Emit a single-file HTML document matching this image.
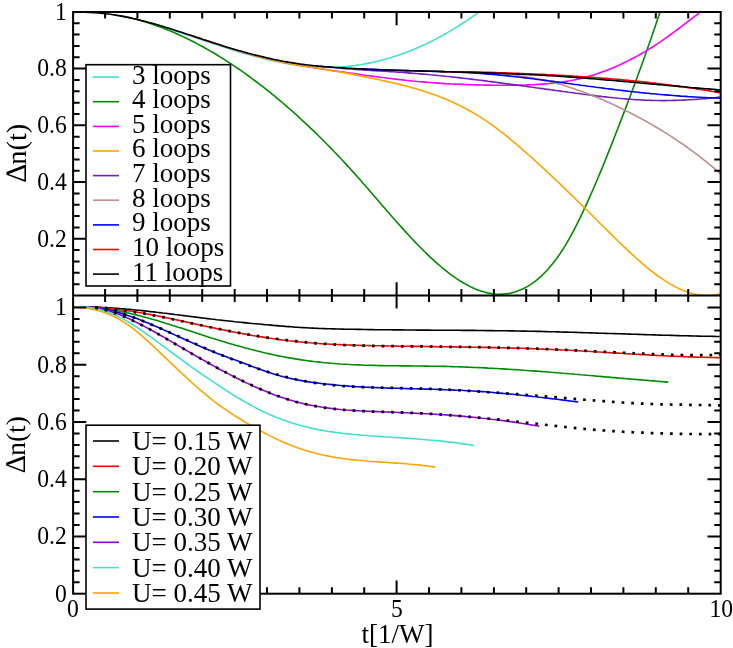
<!DOCTYPE html>
<html><head><meta charset="utf-8"><title>plot</title>
<style>html,body{margin:0;padding:0;background:#fff;overflow:hidden}svg{display:block}</style>
</head><body>
<svg width="733" height="648" viewBox="0 0 733 648">
<defs><clipPath id="ct"><rect x="73" y="12" width="648" height="283.5"/></clipPath><clipPath id="cb"><rect x="73" y="295.5" width="648" height="298"/></clipPath></defs>
<rect width="733" height="648" fill="#fff"/>
<g clip-path="url(#ct)" fill="none" stroke-width="1.6" stroke-linejoin="round">
<path d="M150.4 22.8 L152.9 23.6 L155.4 24.3 L157.9 25.0 L160.4 25.8 L162.9 26.6 L165.4 27.5 L167.9 28.3 L170.4 29.1 L172.9 30.0 L175.4 30.9 L177.9 31.7 L180.4 32.6 L182.9 33.4 L185.4 34.3 L187.9 35.1 L190.4 35.9 L192.9 36.8 L195.4 37.6 L197.9 38.5 L200.3 39.3 L202.8 40.1 L205.3 41.0 L207.8 41.8 L210.3 42.6 L212.8 43.5 L215.3 44.3 L217.8 45.1 L220.3 45.9 L222.8 46.7 L225.3 47.5 L227.8 48.3 L230.3 49.1 L232.8 49.9 L235.3 50.7 L237.8 51.4 L240.3 52.2 L242.8 52.9 L245.3 53.7 L247.8 54.4 L250.3 55.1 L252.8 55.8 L255.3 56.4 L257.8 57.1 L260.3 57.8 L262.8 58.4 L265.3 59.0 L267.8 59.6 L270.3 60.2 L272.8 60.7 L275.3 61.3 L277.8 61.8 L280.3 62.3 L282.7 62.8 L285.2 63.3 L287.7 63.7 L290.2 64.1 L292.7 64.5 L295.2 64.9 L297.7 65.2 L300.2 65.6 L302.7 65.9 L305.2 66.1 L307.7 66.4 L310.2 66.6 L312.7 66.8 L315.2 67.0 L317.7 67.1 L320.2 67.2 L322.7 67.3 L325.2 67.3 L327.7 67.3 L330.2 67.3 L332.7 67.3 L335.2 67.2 L337.7 67.1 L340.2 66.9 L342.7 66.8 L345.2 66.6 L347.7 66.3 L350.2 66.1 L352.7 65.8 L355.2 65.5 L357.7 65.1 L360.2 64.8 L362.7 64.3 L365.1 63.9 L367.6 63.4 L370.1 62.9 L372.6 62.4 L375.1 61.8 L377.6 61.3 L380.1 60.6 L382.6 60.0 L385.1 59.3 L387.6 58.6 L390.1 57.9 L392.6 57.1 L395.1 56.3 L397.6 55.5 L400.1 54.6 L402.6 53.7 L405.1 52.8 L407.6 51.8 L410.1 50.9 L412.6 49.9 L415.1 48.8 L417.6 47.8 L420.1 46.7 L422.6 45.5 L425.1 44.4 L427.6 43.2 L430.1 42.0 L432.6 40.7 L435.1 39.4 L437.6 38.1 L440.1 36.8 L442.6 35.4 L445.1 34.0 L447.6 32.6 L450.0 31.1 L452.5 29.7 L455.0 28.1 L457.5 26.6 L460.0 25.0 L462.5 23.4 L465.0 21.8 L467.5 20.1 L470.0 18.4 L472.5 16.7 L475.0 14.9 L477.5 13.1 L480.0 11.3 L482.5 9.5 L485.0 7.6 L487.5 5.7 L490.0 3.8" stroke="#40e0d0"/>
<path d="M115.5 15.1 L118.0 15.5 L120.5 15.9 L123.0 16.4 L125.5 16.8 L128.0 17.4 L130.5 17.9 L132.9 18.5 L135.4 19.1 L137.9 19.7 L140.4 20.4 L142.9 21.2 L145.4 21.9 L147.9 22.7 L150.4 23.6 L152.9 24.4 L155.4 25.3 L157.9 26.2 L160.4 27.1 L162.9 28.0 L165.4 29.0 L167.9 30.0 L170.4 31.0 L172.9 32.1 L175.4 33.2 L177.9 34.3 L180.4 35.4 L182.9 36.6 L185.4 37.8 L187.9 39.0 L190.4 40.2 L192.9 41.5 L195.4 42.8 L197.9 44.1 L200.4 45.5 L202.9 46.8 L205.4 48.2 L207.9 49.6 L210.4 51.1 L212.9 52.5 L215.4 54.0 L217.9 55.5 L220.4 57.1 L222.9 58.6 L225.4 60.2 L227.9 61.8 L230.4 63.5 L232.9 65.1 L235.4 66.8 L237.9 68.5 L240.4 70.2 L242.9 71.9 L245.4 73.7 L247.9 75.5 L250.4 77.3 L252.8 79.2 L255.3 81.0 L257.8 82.9 L260.3 84.8 L262.8 86.7 L265.3 88.7 L267.8 90.7 L270.3 92.7 L272.8 94.7 L275.3 96.7 L277.8 98.8 L280.3 100.9 L282.8 103.0 L285.3 105.1 L287.8 107.3 L290.3 109.5 L292.8 111.7 L295.3 113.9 L297.8 116.2 L300.3 118.5 L302.8 120.8 L305.3 123.1 L307.8 125.4 L310.3 127.8 L312.8 130.2 L315.3 132.6 L317.8 135.0 L320.3 137.5 L322.8 140.0 L325.3 142.5 L327.8 145.0 L330.3 147.6 L332.8 150.2 L335.3 152.8 L337.8 155.4 L340.3 158.0 L342.8 160.7 L345.3 163.4 L347.8 166.1 L350.3 168.8 L352.8 171.6 L355.3 174.4 L357.8 177.2 L360.3 180.0 L362.8 182.9 L365.3 185.7 L367.8 188.6 L370.2 191.5 L372.7 194.3 L375.2 197.2 L377.7 200.1 L380.2 203.0 L382.7 205.9 L385.2 208.8 L387.7 211.7 L390.2 214.5 L392.7 217.4 L395.2 220.2 L397.7 223.0 L400.2 225.8 L402.7 228.6 L405.2 231.4 L407.7 234.1 L410.2 236.8 L412.7 239.5 L415.2 242.1 L417.7 244.7 L420.2 247.3 L422.7 249.8 L425.2 252.3 L427.7 254.7 L430.2 257.1 L432.7 259.4 L435.2 261.7 L437.7 263.9 L440.2 266.0 L442.7 268.1 L445.2 270.2 L447.7 272.2 L450.2 274.1 L452.7 275.9 L455.2 277.7 L457.7 279.3 L460.2 281.0 L462.7 282.5 L465.2 283.9 L467.7 285.3 L470.2 286.6 L472.7 287.8 L475.2 288.9 L477.7 289.9 L480.2 290.8 L482.7 291.6 L485.2 292.3 L487.6 292.9 L490.1 293.4 L492.6 293.7 L495.1 294.0 L497.6 294.2 L500.1 294.2 L502.6 294.1 L505.1 294.0 L507.6 293.6 L510.1 293.2 L512.6 292.6 L515.1 291.9 L517.6 291.1 L520.1 290.1 L522.6 289.0 L525.1 287.8 L527.6 286.4 L530.1 284.8 L532.6 283.1 L535.1 281.3 L537.6 279.3 L540.1 277.1 L542.6 274.8 L545.1 272.3 L547.6 269.7 L550.1 266.8 L552.6 263.8 L555.1 260.6 L557.6 257.2 L560.1 253.6 L562.6 249.8 L565.1 245.8 L567.6 241.6 L570.1 237.2 L572.6 232.6 L575.1 227.8 L577.6 222.9 L580.1 217.8 L582.6 212.6 L585.1 207.2 L587.6 201.8 L590.1 196.2 L592.6 190.5 L595.1 184.7 L597.6 178.8 L600.1 172.9 L602.6 166.9 L605.1 160.8 L607.5 154.6 L610.0 148.4 L612.5 142.1 L615.0 135.7 L617.5 129.3 L620.0 122.9 L622.5 116.4 L625.0 109.9 L627.5 103.3 L630.0 96.7 L632.5 90.0 L635.0 83.3 L637.5 76.5 L640.0 69.6 L642.5 62.7 L645.0 55.7 L647.5 48.6 L650.0 41.5 L652.5 34.3 L655.0 27.0 L657.5 19.6 L660.0 12.2 L662.5 4.6 L665.0 -3.0" stroke="#008b00"/>
<path d="M190.4 35.3 L192.9 36.1 L195.4 36.9 L197.9 37.7 L200.4 38.5 L202.9 39.4 L205.4 40.2 L207.9 41.0 L210.4 41.8 L212.9 42.6 L215.4 43.4 L217.9 44.3 L220.4 45.1 L222.9 45.9 L225.4 46.7 L227.9 47.5 L230.4 48.3 L232.9 49.1 L235.4 49.9 L237.9 50.6 L240.4 51.4 L242.9 52.1 L245.4 52.9 L247.9 53.6 L250.4 54.3 L252.9 55.0 L255.4 55.6 L257.9 56.3 L260.4 56.9 L262.9 57.6 L265.3 58.2 L267.8 58.8 L270.3 59.3 L272.8 59.9 L275.3 60.5 L277.8 61.0 L280.3 61.5 L282.8 62.1 L285.3 62.6 L287.8 63.1 L290.3 63.5 L292.8 64.0 L295.3 64.5 L297.8 64.9 L300.3 65.4 L302.8 65.8 L305.3 66.3 L307.8 66.7 L310.3 67.1 L312.8 67.5 L315.3 67.9 L317.8 68.3 L320.3 68.7 L322.8 69.1 L325.3 69.5 L327.8 69.8 L330.3 70.2 L332.8 70.6 L335.3 70.9 L337.8 71.3 L340.3 71.7 L342.8 72.0 L345.3 72.4 L347.8 72.7 L350.3 73.1 L352.8 73.4 L355.3 73.8 L357.8 74.1 L360.3 74.5 L362.8 74.8 L365.3 75.2 L367.8 75.5 L370.3 75.9 L372.8 76.2 L375.3 76.5 L377.8 76.9 L380.3 77.2 L382.8 77.5 L385.3 77.8 L387.8 78.2 L390.3 78.5 L392.7 78.8 L395.2 79.1 L397.7 79.4 L400.2 79.7 L402.7 79.9 L405.2 80.2 L407.7 80.5 L410.2 80.7 L412.7 81.0 L415.2 81.2 L417.7 81.5 L420.2 81.7 L422.7 81.9 L425.2 82.1 L427.7 82.3 L430.2 82.5 L432.7 82.7 L435.2 82.9 L437.7 83.1 L440.2 83.3 L442.7 83.4 L445.2 83.6 L447.7 83.7 L450.2 83.9 L452.7 84.0 L455.2 84.1 L457.7 84.2 L460.2 84.3 L462.7 84.4 L465.2 84.5 L467.7 84.6 L470.2 84.7 L472.7 84.8 L475.2 84.9 L477.7 84.9 L480.2 85.0 L482.7 85.0 L485.2 85.1 L487.7 85.1 L490.2 85.1 L492.7 85.2 L495.2 85.2 L497.7 85.2 L500.2 85.2 L502.7 85.2 L505.2 85.2 L507.7 85.2 L510.2 85.2 L512.7 85.2 L515.2 85.1 L517.7 85.1 L520.1 85.1 L522.6 85.0 L525.1 85.0 L527.6 84.9 L530.1 84.8 L532.6 84.7 L535.1 84.6 L537.6 84.4 L540.1 84.3 L542.6 84.1 L545.1 83.9 L547.6 83.7 L550.1 83.5 L552.6 83.2 L555.1 82.9 L557.6 82.6 L560.1 82.3 L562.6 81.9 L565.1 81.5 L567.6 81.1 L570.1 80.7 L572.6 80.2 L575.1 79.7 L577.6 79.1 L580.1 78.6 L582.6 78.0 L585.1 77.3 L587.6 76.6 L590.1 75.9 L592.6 75.2 L595.1 74.4 L597.6 73.6 L600.1 72.7 L602.6 71.8 L605.1 70.9 L607.6 70.0 L610.1 69.0 L612.6 67.9 L615.1 66.9 L617.6 65.8 L620.1 64.7 L622.6 63.5 L625.1 62.3 L627.6 61.1 L630.1 59.8 L632.6 58.5 L635.1 57.2 L637.6 55.9 L640.1 54.5 L642.6 53.0 L645.1 51.6 L647.5 50.1 L650.0 48.5 L652.5 47.0 L655.0 45.4 L657.5 43.7 L660.0 42.1 L662.5 40.4 L665.0 38.6 L667.5 36.8 L670.0 35.0 L672.5 33.2 L675.0 31.4 L677.5 29.5 L680.0 27.6 L682.5 25.7 L685.0 23.8 L687.5 21.9 L690.0 20.0 L692.5 18.1 L695.0 16.2 L697.5 14.3 L700.0 12.4 L702.5 10.6 L705.0 8.7 L707.5 6.9 L710.0 5.1" stroke="#ff00ff"/>
<path d="M190.5 35.3 L193.0 36.1 L195.5 37.0 L198.0 37.8 L200.5 38.6 L203.0 39.4 L205.5 40.2 L208.0 41.0 L210.5 41.8 L213.0 42.6 L215.5 43.4 L218.0 44.2 L220.5 45.0 L223.0 45.9 L225.5 46.7 L228.0 47.5 L230.5 48.2 L233.0 49.0 L235.5 49.8 L238.0 50.6 L240.5 51.3 L243.0 52.1 L245.5 52.8 L248.0 53.6 L250.5 54.3 L253.0 55.0 L255.5 55.7 L258.0 56.4 L260.5 57.0 L263.0 57.7 L265.5 58.3 L268.0 58.9 L270.5 59.5 L273.0 60.1 L275.5 60.7 L278.0 61.3 L280.5 61.8 L283.0 62.3 L285.5 62.8 L288.0 63.3 L290.5 63.7 L293.0 64.2 L295.5 64.6 L298.0 65.0 L300.5 65.5 L303.0 65.9 L305.5 66.3 L308.0 66.7 L310.5 67.0 L313.0 67.4 L315.5 67.8 L318.0 68.2 L320.5 68.6 L323.0 69.0 L325.5 69.4 L328.0 69.8 L330.5 70.2 L333.0 70.7 L335.5 71.1 L338.0 71.6 L340.5 72.0 L343.0 72.5 L345.5 72.9 L348.0 73.4 L350.5 73.9 L353.0 74.4 L355.5 74.9 L358.0 75.4 L360.5 75.9 L363.0 76.4 L365.5 76.9 L368.0 77.4 L370.5 77.9 L373.0 78.4 L375.5 79.0 L378.0 79.5 L380.5 80.0 L383.0 80.6 L385.5 81.1 L388.0 81.7 L390.5 82.2 L393.0 82.8 L395.5 83.4 L398.0 84.0 L400.5 84.6 L403.0 85.2 L405.5 85.9 L408.0 86.5 L410.5 87.2 L413.0 87.9 L415.5 88.6 L418.0 89.4 L420.5 90.1 L423.0 90.9 L425.5 91.7 L428.0 92.5 L430.5 93.4 L433.0 94.2 L435.5 95.1 L438.0 96.1 L440.5 97.0 L443.0 98.0 L445.5 99.0 L448.0 100.1 L450.5 101.2 L453.0 102.3 L455.5 103.5 L458.0 104.7 L460.5 105.9 L463.0 107.2 L465.5 108.5 L468.0 109.8 L470.5 111.2 L473.0 112.6 L475.5 114.1 L478.0 115.6 L480.5 117.2 L483.0 118.8 L485.5 120.4 L488.0 122.1 L490.5 123.9 L493.0 125.7 L495.5 127.5 L498.0 129.4 L500.5 131.3 L503.0 133.2 L505.5 135.2 L508.0 137.2 L510.5 139.3 L513.0 141.3 L515.5 143.4 L518.0 145.6 L520.5 147.7 L523.0 149.9 L525.5 152.1 L528.0 154.3 L530.5 156.5 L533.0 158.7 L535.5 161.0 L538.0 163.3 L540.5 165.6 L543.0 167.9 L545.5 170.2 L548.0 172.5 L550.5 174.9 L553.0 177.3 L555.5 179.6 L558.0 182.0 L560.5 184.4 L563.0 186.8 L565.5 189.2 L568.0 191.6 L570.5 194.1 L573.0 196.5 L575.5 199.0 L578.0 201.4 L580.5 203.9 L583.0 206.3 L585.5 208.8 L588.0 211.3 L590.5 213.8 L593.0 216.2 L595.5 218.7 L598.0 221.2 L600.5 223.7 L603.0 226.2 L605.5 228.6 L608.0 231.1 L610.5 233.6 L613.0 236.1 L615.5 238.5 L618.0 241.0 L620.5 243.4 L623.0 245.8 L625.5 248.2 L628.0 250.6 L630.5 252.9 L633.0 255.2 L635.5 257.5 L638.0 259.7 L640.5 261.9 L643.0 264.1 L645.5 266.2 L648.0 268.3 L650.5 270.3 L653.0 272.2 L655.5 274.1 L658.0 276.0 L660.5 277.7 L663.0 279.4 L665.5 281.1 L668.0 282.6 L670.5 284.1 L673.0 285.5 L675.5 286.9 L678.0 288.1 L680.5 289.3 L683.0 290.4 L685.5 291.3 L688.0 292.2 L690.5 293.0 L693.0 293.7 L695.5 294.3 L698.0 294.7 L700.5 295.1 L703.0 295.3 L705.5 295.5 L708.0 295.5 L710.5 295.4 L713.0 295.1 L715.5 294.8 L718.0 294.3 L720.5 293.7" stroke="#ffa500"/>
<path d="M315.6 65.8 L318.1 66.1 L320.6 66.3 L323.1 66.6 L325.6 66.8 L328.1 67.0 L330.6 67.2 L333.1 67.5 L335.6 67.7 L338.1 68.0 L340.6 68.2 L343.1 68.4 L345.6 68.6 L348.1 68.9 L350.6 69.0 L353.1 69.2 L355.6 69.4 L358.1 69.6 L360.6 69.7 L363.1 69.9 L365.6 70.1 L368.1 70.2 L370.6 70.4 L373.1 70.6 L375.6 70.7 L378.1 70.9 L380.6 71.0 L383.1 71.2 L385.6 71.3 L388.1 71.5 L390.6 71.7 L393.1 71.8 L395.6 72.0 L398.1 72.2 L400.6 72.3 L403.1 72.5 L405.6 72.7 L408.1 72.9 L410.6 73.1 L413.1 73.3 L415.6 73.5 L418.1 73.7 L420.6 73.9 L423.1 74.1 L425.6 74.3 L428.1 74.5 L430.6 74.8 L433.1 75.0 L435.6 75.2 L438.1 75.5 L440.6 75.7 L443.1 76.0 L445.6 76.3 L448.1 76.5 L450.6 76.8 L453.1 77.1 L455.6 77.3 L458.1 77.6 L460.6 77.9 L463.1 78.2 L465.6 78.5 L468.1 78.8 L470.6 79.1 L473.1 79.4 L475.6 79.7 L478.1 80.0 L480.6 80.3 L483.1 80.6 L485.6 80.9 L488.1 81.3 L490.6 81.6 L493.1 81.9 L495.6 82.2 L498.1 82.6 L500.6 82.9 L503.1 83.2 L505.6 83.6 L508.1 83.9 L510.6 84.2 L513.1 84.6 L515.6 84.9 L518.1 85.3 L520.6 85.6 L523.1 86.0 L525.6 86.3 L528.1 86.6 L530.6 87.0 L533.1 87.3 L535.6 87.7 L538.1 88.0 L540.6 88.4 L543.1 88.7 L545.6 89.1 L548.1 89.4 L550.6 89.8 L553.1 90.1 L555.6 90.5 L558.1 90.8 L560.7 91.1 L563.2 91.5 L565.7 91.8 L568.2 92.2 L570.7 92.5 L573.2 92.8 L575.7 93.2 L578.2 93.5 L580.7 93.8 L583.2 94.2 L585.7 94.5 L588.2 94.8 L590.7 95.1 L593.2 95.4 L595.7 95.8 L598.2 96.1 L600.7 96.4 L603.2 96.7 L605.7 96.9 L608.2 97.2 L610.7 97.5 L613.2 97.8 L615.7 98.0 L618.2 98.3 L620.7 98.5 L623.2 98.7 L625.7 98.9 L628.2 99.1 L630.7 99.3 L633.2 99.5 L635.7 99.7 L638.2 99.8 L640.7 100.0 L643.2 100.1 L645.7 100.2 L648.2 100.3 L650.7 100.4 L653.2 100.5 L655.7 100.5 L658.2 100.5 L660.7 100.6 L663.2 100.6 L665.7 100.6 L668.2 100.5 L670.7 100.5 L673.2 100.4 L675.7 100.4 L678.2 100.3 L680.7 100.2 L683.2 100.1 L685.7 100.0 L688.2 99.8 L690.7 99.7 L693.2 99.5 L695.7 99.4 L698.2 99.2 L700.7 99.0 L703.2 98.8 L705.7 98.6 L708.2 98.3 L710.7 98.1 L713.2 97.8 L715.7 97.6 L718.2 97.3 L720.7 97.0" stroke="#7221bc"/>
<path d="M470.8 72.4 L473.3 72.5 L475.8 72.5 L478.3 72.5 L480.8 72.5 L483.3 72.6 L485.8 72.6 L488.3 72.7 L490.8 72.8 L493.3 72.9 L495.8 73.1 L498.3 73.3 L500.8 73.5 L503.3 73.8 L505.8 74.0 L508.3 74.3 L510.8 74.6 L513.3 74.9 L515.8 75.3 L518.3 75.6 L520.8 76.0 L523.3 76.3 L525.8 76.7 L528.4 77.2 L530.9 77.6 L533.4 78.1 L535.9 78.5 L538.4 79.1 L540.9 79.6 L543.4 80.1 L545.9 80.7 L548.4 81.3 L550.9 81.9 L553.4 82.5 L555.9 83.2 L558.4 83.9 L560.9 84.6 L563.4 85.3 L565.9 86.1 L568.4 86.9 L570.9 87.7 L573.4 88.5 L575.9 89.4 L578.4 90.2 L580.9 91.1 L583.4 92.0 L585.9 93.0 L588.4 93.9 L590.9 94.9 L593.4 95.9 L595.9 96.9 L598.4 98.0 L600.9 99.0 L603.4 100.1 L605.9 101.2 L608.4 102.3 L610.9 103.5 L613.4 104.6 L615.9 105.8 L618.4 107.0 L620.9 108.2 L623.4 109.4 L625.9 110.7 L628.4 111.9 L630.9 113.2 L633.4 114.5 L635.9 115.8 L638.4 117.1 L640.9 118.5 L643.4 119.9 L645.9 121.3 L648.4 122.7 L650.9 124.1 L653.4 125.5 L655.9 127.0 L658.5 128.5 L661.0 130.0 L663.5 131.6 L666.0 133.1 L668.5 134.7 L671.0 136.3 L673.5 138.0 L676.0 139.6 L678.5 141.3 L681.0 143.0 L683.5 144.7 L686.0 146.5 L688.5 148.3 L691.0 150.1 L693.5 151.9 L696.0 153.8 L698.5 155.7 L701.0 157.6 L703.5 159.6 L706.0 161.6 L708.5 163.6 L711.0 165.6 L713.5 167.7 L716.0 169.8 L718.5 171.9 L721.0 174.1" stroke="#bc8f8f"/>
<path d="M360.6 68.8 L363.1 69.0 L365.6 69.1 L368.1 69.2 L370.6 69.4 L373.1 69.5 L375.6 69.6 L378.1 69.8 L380.6 69.9 L383.1 70.0 L385.6 70.1 L388.1 70.2 L390.6 70.2 L393.1 70.3 L395.6 70.4 L398.1 70.4 L400.6 70.5 L403.1 70.5 L405.6 70.6 L408.1 70.6 L410.6 70.7 L413.1 70.8 L415.6 70.8 L418.1 70.9 L420.6 70.9 L423.1 71.0 L425.6 71.1 L428.1 71.1 L430.6 71.2 L433.1 71.3 L435.6 71.3 L438.1 71.4 L440.6 71.5 L443.1 71.6 L445.6 71.7 L448.1 71.8 L450.6 71.8 L453.1 72.0 L455.6 72.1 L458.1 72.2 L460.6 72.3 L463.1 72.4 L465.6 72.5 L468.1 72.7 L470.6 72.8 L473.1 73.0 L475.6 73.1 L478.1 73.3 L480.6 73.5 L483.1 73.7 L485.6 73.9 L488.1 74.1 L490.6 74.3 L493.1 74.5 L495.6 74.7 L498.1 74.9 L500.6 75.2 L503.1 75.4 L505.6 75.7 L508.1 75.9 L510.6 76.2 L513.1 76.5 L515.6 76.7 L518.1 77.0 L520.6 77.3 L523.1 77.6 L525.6 77.9 L528.1 78.2 L530.6 78.5 L533.1 78.8 L535.6 79.2 L538.1 79.5 L540.6 79.8 L543.1 80.1 L545.6 80.4 L548.1 80.8 L550.6 81.1 L553.1 81.4 L555.6 81.8 L558.1 82.1 L560.7 82.5 L563.2 82.8 L565.7 83.1 L568.2 83.5 L570.7 83.8 L573.2 84.2 L575.7 84.5 L578.2 84.8 L580.7 85.2 L583.2 85.5 L585.7 85.8 L588.2 86.2 L590.7 86.5 L593.2 86.8 L595.7 87.2 L598.2 87.5 L600.7 87.8 L603.2 88.1 L605.7 88.5 L608.2 88.8 L610.7 89.1 L613.2 89.4 L615.7 89.7 L618.2 90.0 L620.7 90.3 L623.2 90.6 L625.7 90.9 L628.2 91.2 L630.7 91.5 L633.2 91.7 L635.7 92.0 L638.2 92.3 L640.7 92.6 L643.2 92.8 L645.7 93.1 L648.2 93.3 L650.7 93.6 L653.2 93.8 L655.7 94.0 L658.2 94.3 L660.7 94.5 L663.2 94.7 L665.7 94.9 L668.2 95.1 L670.7 95.3 L673.2 95.5 L675.7 95.7 L678.2 95.9 L680.7 96.1 L683.2 96.2 L685.7 96.4 L688.2 96.6 L690.7 96.7 L693.2 96.9 L695.7 97.0 L698.2 97.2 L700.7 97.3 L703.2 97.5 L705.7 97.6 L708.2 97.7 L710.7 97.8 L713.2 97.9 L715.7 98.0 L718.2 98.1 L720.7 98.2" stroke="#0000ff"/>
<path d="M440.6 71.6 L443.1 71.6 L445.6 71.7 L448.1 71.7 L450.6 71.7 L453.1 71.7 L455.6 71.8 L458.1 71.8 L460.6 71.8 L463.1 71.8 L465.6 71.8 L468.1 71.8 L470.6 71.9 L473.1 71.9 L475.6 72.0 L478.1 72.1 L480.6 72.1 L483.1 72.2 L485.6 72.3 L488.1 72.4 L490.6 72.4 L493.1 72.5 L495.6 72.6 L498.1 72.7 L500.6 72.8 L503.1 72.8 L505.6 72.9 L508.1 73.0 L510.6 73.1 L513.1 73.2 L515.6 73.3 L518.1 73.4 L520.6 73.5 L523.1 73.6 L525.6 73.7 L528.1 73.8 L530.6 73.9 L533.1 74.0 L535.6 74.1 L538.1 74.2 L540.6 74.3 L543.1 74.4 L545.6 74.6 L548.1 74.7 L550.6 74.8 L553.1 74.9 L555.6 75.1 L558.1 75.2 L560.7 75.3 L563.2 75.5 L565.7 75.6 L568.2 75.8 L570.7 75.9 L573.2 76.1 L575.7 76.2 L578.2 76.4 L580.7 76.5 L583.2 76.7 L585.7 76.9 L588.2 77.0 L590.7 77.2 L593.2 77.4 L595.7 77.6 L598.2 77.8 L600.7 78.0 L603.2 78.2 L605.7 78.4 L608.2 78.6 L610.7 78.8 L613.2 79.0 L615.7 79.2 L618.2 79.4 L620.7 79.6 L623.2 79.9 L625.7 80.1 L628.2 80.3 L630.7 80.6 L633.2 80.8 L635.7 81.1 L638.2 81.3 L640.7 81.6 L643.2 81.9 L645.7 82.1 L648.2 82.4 L650.7 82.7 L653.2 83.0 L655.7 83.3 L658.2 83.6 L660.7 83.9 L663.2 84.2 L665.7 84.5 L668.2 84.8 L670.7 85.1 L673.2 85.5 L675.7 85.8 L678.2 86.1 L680.7 86.5 L683.2 86.8 L685.7 87.2 L688.2 87.6 L690.7 87.9 L693.2 88.3 L695.7 88.7 L698.2 89.1 L700.7 89.5 L703.2 89.9 L705.7 90.3 L708.2 90.7 L710.7 91.1 L713.2 91.5 L715.7 92.0 L718.2 92.4 L720.7 92.9" stroke="#ff0000"/>
<path d="M73.0 12.4 L75.5 12.3 L78.0 12.3 L80.5 12.2 L83.0 12.2 L85.5 12.3 L88.0 12.4 L90.5 12.5 L93.0 12.6 L95.5 12.8 L98.0 12.9 L100.5 13.2 L103.0 13.4 L105.5 13.7 L108.0 14.0 L110.5 14.3 L113.0 14.7 L115.5 15.1 L118.0 15.5 L120.5 15.9 L123.0 16.4 L125.5 16.9 L128.0 17.4 L130.5 17.9 L133.0 18.5 L135.5 19.0 L138.0 19.6 L140.5 20.2 L143.0 20.9 L145.5 21.5 L148.0 22.2 L150.5 22.9 L153.0 23.6 L155.5 24.3 L158.0 25.0 L160.5 25.8 L163.0 26.5 L165.5 27.3 L168.0 28.0 L170.5 28.8 L173.0 29.6 L175.5 30.4 L178.0 31.2 L180.5 32.0 L183.0 32.8 L185.5 33.7 L188.0 34.5 L190.5 35.3 L193.0 36.1 L195.5 37.0 L198.0 37.8 L200.5 38.6 L203.0 39.5 L205.5 40.3 L208.0 41.1 L210.5 41.9 L213.0 42.7 L215.5 43.5 L218.0 44.3 L220.5 45.1 L223.0 45.9 L225.5 46.7 L228.0 47.4 L230.5 48.2 L233.0 48.9 L235.6 49.7 L238.1 50.4 L240.6 51.1 L243.1 51.8 L245.6 52.5 L248.1 53.2 L250.6 53.8 L253.1 54.5 L255.6 55.1 L258.1 55.7 L260.6 56.3 L263.1 56.9 L265.6 57.5 L268.1 58.1 L270.6 58.6 L273.1 59.2 L275.6 59.7 L278.1 60.2 L280.6 60.7 L283.1 61.2 L285.6 61.6 L288.1 62.1 L290.6 62.5 L293.1 62.9 L295.6 63.3 L298.1 63.7 L300.6 64.1 L303.1 64.4 L305.6 64.7 L308.1 65.0 L310.6 65.3 L313.1 65.6 L315.6 65.8 L318.1 66.1 L320.6 66.3 L323.1 66.5 L325.6 66.7 L328.1 66.9 L330.6 67.1 L333.1 67.3 L335.6 67.5 L338.1 67.6 L340.6 67.8 L343.1 67.9 L345.6 68.1 L348.1 68.2 L350.6 68.3 L353.1 68.5 L355.6 68.6 L358.1 68.7 L360.6 68.8 L363.1 68.9 L365.6 69.1 L368.1 69.2 L370.6 69.3 L373.1 69.4 L375.6 69.5 L378.1 69.6 L380.6 69.7 L383.1 69.8 L385.6 69.9 L388.1 70.0 L390.6 70.1 L393.1 70.1 L395.6 70.2 L398.1 70.3 L400.6 70.4 L403.1 70.5 L405.6 70.6 L408.1 70.6 L410.6 70.7 L413.1 70.8 L415.6 70.9 L418.1 70.9 L420.6 71.0 L423.1 71.1 L425.6 71.1 L428.1 71.2 L430.6 71.3 L433.1 71.4 L435.6 71.4 L438.1 71.5 L440.6 71.6 L443.1 71.6 L445.6 71.7 L448.1 71.8 L450.6 71.8 L453.1 71.9 L455.6 72.0 L458.1 72.0 L460.6 72.1 L463.1 72.2 L465.6 72.3 L468.1 72.3 L470.6 72.4 L473.1 72.5 L475.6 72.5 L478.1 72.6 L480.6 72.7 L483.1 72.8 L485.6 72.9 L488.1 72.9 L490.6 73.0 L493.1 73.1 L495.6 73.2 L498.1 73.3 L500.6 73.4 L503.1 73.5 L505.6 73.6 L508.1 73.7 L510.6 73.8 L513.1 73.9 L515.6 74.0 L518.1 74.1 L520.6 74.2 L523.1 74.3 L525.6 74.4 L528.1 74.5 L530.6 74.6 L533.1 74.8 L535.6 74.9 L538.1 75.0 L540.6 75.2 L543.1 75.3 L545.6 75.4 L548.1 75.6 L550.6 75.7 L553.1 75.9 L555.6 76.0 L558.1 76.2 L560.7 76.4 L563.2 76.5 L565.7 76.7 L568.2 76.9 L570.7 77.1 L573.2 77.2 L575.7 77.4 L578.2 77.6 L580.7 77.8 L583.2 78.0 L585.7 78.2 L588.2 78.4 L590.7 78.6 L593.2 78.8 L595.7 79.0 L598.2 79.2 L600.7 79.4 L603.2 79.6 L605.7 79.9 L608.2 80.1 L610.7 80.3 L613.2 80.5 L615.7 80.7 L618.2 80.9 L620.7 81.2 L623.2 81.4 L625.7 81.6 L628.2 81.8 L630.7 82.1 L633.2 82.3 L635.7 82.5 L638.2 82.7 L640.7 83.0 L643.2 83.2 L645.7 83.4 L648.2 83.7 L650.7 83.9 L653.2 84.1 L655.7 84.3 L658.2 84.6 L660.7 84.8 L663.2 85.0 L665.7 85.3 L668.2 85.5 L670.7 85.7 L673.2 85.9 L675.7 86.2 L678.2 86.4 L680.7 86.6 L683.2 86.8 L685.7 87.0 L688.2 87.2 L690.7 87.5 L693.2 87.7 L695.7 87.9 L698.2 88.1 L700.7 88.3 L703.2 88.5 L705.7 88.7 L708.2 88.9 L710.7 89.1 L713.2 89.3 L715.7 89.5 L718.2 89.7 L720.7 89.8" stroke="#000000"/>
</g>
<g clip-path="url(#cb)" fill="none" stroke-width="1.6" stroke-linejoin="round">
<path d="M73.0 306.9 L76.0 306.8 L79.0 306.8 L82.0 306.8 L85.0 306.9 L88.0 306.9 L91.0 307.0 L94.0 307.1 L97.0 307.2 L99.9 307.3 L102.9 307.5 L105.9 307.6 L108.9 307.8 L111.9 308.0 L114.9 308.2 L117.9 308.4 L120.9 308.7 L123.9 308.9 L126.9 309.2 L129.9 309.4 L132.9 309.7 L135.9 310.0 L138.9 310.3 L141.9 310.6 L144.9 310.9 L147.8 311.2 L150.8 311.6 L153.8 311.9 L156.8 312.3 L159.8 312.6 L162.8 313.0 L165.8 313.3 L168.8 313.7 L171.8 314.1 L174.8 314.5 L177.8 314.8 L180.8 315.2 L183.8 315.6 L186.8 316.0 L189.8 316.4 L192.8 316.7 L195.8 317.1 L198.7 317.5 L201.7 317.9 L204.7 318.2 L207.7 318.6 L210.7 319.0 L213.7 319.3 L216.7 319.7 L219.7 320.0 L222.7 320.4 L225.7 320.7 L228.7 321.0 L231.7 321.3 L234.7 321.7 L237.7 322.0 L240.7 322.3 L243.7 322.6 L246.7 322.9 L249.6 323.2 L252.6 323.5 L255.6 323.7 L258.6 324.0 L261.6 324.3 L264.6 324.6 L267.6 324.8 L270.6 325.1 L273.6 325.4 L276.6 325.6 L279.6 325.9 L282.6 326.1 L285.6 326.4 L288.6 326.6 L291.6 326.8 L294.6 327.1 L297.5 327.3 L300.5 327.5 L303.5 327.6 L306.5 327.8 L309.5 328.0 L312.5 328.1 L315.5 328.2 L318.5 328.4 L321.5 328.5 L324.5 328.6 L327.5 328.7 L330.5 328.8 L333.5 328.9 L336.5 329.0 L339.5 329.0 L342.5 329.1 L345.5 329.2 L348.4 329.2 L351.4 329.3 L354.4 329.3 L357.4 329.4 L360.4 329.4 L363.4 329.5 L366.4 329.5 L369.4 329.6 L372.4 329.6 L375.4 329.7 L378.4 329.7 L381.4 329.7 L384.4 329.8 L387.4 329.8 L390.4 329.8 L393.4 329.9 L396.4 329.9 L399.3 329.9 L402.3 329.9 L405.3 330.0 L408.3 330.0 L411.3 330.0 L414.3 330.0 L417.3 330.1 L420.3 330.1 L423.3 330.1 L426.3 330.1 L429.3 330.1 L432.3 330.2 L435.3 330.2 L438.3 330.2 L441.3 330.2 L444.3 330.2 L447.2 330.2 L450.2 330.3 L453.2 330.3 L456.2 330.3 L459.2 330.3 L462.2 330.4 L465.2 330.4 L468.2 330.4 L471.2 330.4 L474.2 330.4 L477.2 330.5 L480.2 330.5 L483.2 330.5 L486.2 330.6 L489.2 330.6 L492.2 330.6 L495.2 330.7 L498.1 330.7 L501.1 330.7 L504.1 330.8 L507.1 330.8 L510.1 330.9 L513.1 330.9 L516.1 331.0 L519.1 331.0 L522.1 331.1 L525.1 331.1 L528.1 331.2 L531.1 331.2 L534.1 331.3 L537.1 331.4 L540.1 331.4 L543.1 331.5 L546.0 331.6 L549.0 331.7 L552.0 331.7 L555.0 331.8 L558.0 331.9 L561.0 332.0 L564.0 332.1 L567.0 332.1 L570.0 332.2 L573.0 332.3 L576.0 332.4 L579.0 332.5 L582.0 332.6 L585.0 332.7 L588.0 332.8 L591.0 332.9 L594.0 333.0 L596.9 333.1 L599.9 333.2 L602.9 333.3 L605.9 333.4 L608.9 333.5 L611.9 333.5 L614.9 333.6 L617.9 333.7 L620.9 333.8 L623.9 333.9 L626.9 334.0 L629.9 334.1 L632.9 334.2 L635.9 334.3 L638.9 334.4 L641.9 334.5 L644.9 334.6 L647.8 334.7 L650.8 334.8 L653.8 334.9 L656.8 335.0 L659.8 335.1 L662.8 335.2 L665.8 335.2 L668.8 335.3 L671.8 335.4 L674.8 335.5 L677.8 335.6 L680.8 335.7 L683.8 335.7 L686.8 335.8 L689.8 335.9 L692.8 336.0 L695.7 336.0 L698.7 336.1 L701.7 336.2 L704.7 336.2 L707.7 336.3 L710.7 336.3 L713.7 336.4 L716.7 336.5 L719.7 336.5" stroke="#000000"/>
<path d="M73.0 306.9 L76.0 306.8 L79.0 306.8 L82.0 306.8 L85.0 306.9 L88.0 307.0 L91.0 307.1 L94.0 307.2 L97.0 307.4 L99.9 307.6 L102.9 307.8 L105.9 308.1 L108.9 308.4 L111.9 308.7 L114.9 309.0 L117.9 309.4 L120.9 309.8 L123.9 310.2 L126.9 310.6 L129.9 311.0 L132.9 311.5 L135.9 312.0 L138.9 312.5 L141.9 313.0 L144.9 313.5 L147.8 314.1 L150.8 314.6 L153.8 315.2 L156.8 315.8 L159.8 316.4 L162.8 317.0 L165.8 317.6 L168.8 318.2 L171.8 318.9 L174.8 319.5 L177.8 320.1 L180.8 320.8 L183.8 321.4 L186.8 322.1 L189.8 322.7 L192.8 323.4 L195.8 324.1 L198.7 324.7 L201.7 325.4 L204.7 326.0 L207.7 326.7 L210.7 327.3 L213.7 327.9 L216.7 328.6 L219.7 329.2 L222.7 329.8 L225.7 330.4 L228.7 331.0 L231.7 331.6 L234.7 332.2 L237.7 332.8 L240.7 333.3 L243.7 333.9 L246.7 334.4 L249.6 334.9 L252.6 335.5 L255.6 336.0 L258.6 336.5 L261.6 336.9 L264.6 337.4 L267.6 337.9 L270.6 338.3 L273.6 338.7 L276.6 339.2 L279.6 339.6 L282.6 340.0 L285.6 340.3 L288.6 340.7 L291.6 341.0 L294.6 341.4 L297.5 341.7 L300.5 342.0 L303.5 342.3 L306.5 342.5 L309.5 342.8 L312.5 343.0 L315.5 343.3 L318.5 343.5 L321.5 343.7 L324.5 343.9 L327.5 344.0 L330.5 344.2 L333.5 344.4 L336.5 344.5 L339.5 344.6 L342.5 344.8 L345.5 344.9 L348.4 345.0 L351.4 345.1 L354.4 345.2 L357.4 345.3 L360.4 345.4 L363.4 345.5 L366.4 345.5 L369.4 345.6 L372.4 345.7 L375.4 345.7 L378.4 345.8 L381.4 345.8 L384.4 345.9 L387.4 346.0 L390.4 346.0 L393.4 346.1 L396.4 346.1 L399.3 346.2 L402.3 346.2 L405.3 346.2 L408.3 346.3 L411.3 346.3 L414.3 346.4 L417.3 346.4 L420.3 346.4 L423.3 346.5 L426.3 346.5 L429.3 346.6 L432.3 346.6 L435.3 346.6 L438.3 346.7 L441.3 346.7 L444.3 346.8 L447.2 346.8 L450.2 346.8 L453.2 346.9 L456.2 346.9 L459.2 347.0 L462.2 347.0 L465.2 347.1 L468.2 347.1 L471.2 347.2 L474.2 347.2 L477.2 347.3 L480.2 347.3 L483.2 347.4 L486.2 347.4 L489.2 347.5 L492.2 347.6 L495.2 347.6 L498.1 347.7 L501.1 347.8 L504.1 347.8 L507.1 347.9 L510.1 348.0 L513.1 348.1 L516.1 348.2 L519.1 348.2 L522.1 348.3 L525.1 348.4 L528.1 348.5 L531.1 348.6 L534.1 348.7 L537.1 348.8 L540.1 349.0 L543.1 349.1 L546.0 349.2 L549.0 349.3 L552.0 349.5 L555.0 349.6 L558.0 349.7 L561.0 349.9 L564.0 350.0 L567.0 350.2 L570.0 350.3 L573.0 350.5 L576.0 350.7 L579.0 350.8 L582.0 351.0 L585.0 351.2 L588.0 351.3 L591.0 351.5 L594.0 351.7 L596.9 351.9 L599.9 352.0 L602.9 352.2 L605.9 352.4 L608.9 352.6 L611.9 352.8 L614.9 352.9 L617.9 353.1 L620.9 353.3 L623.9 353.5 L626.9 353.7 L629.9 353.9 L632.9 354.0 L635.9 354.2 L638.9 354.4 L641.9 354.6 L644.9 354.7 L647.8 354.9 L650.8 355.1 L653.8 355.2 L656.8 355.4 L659.8 355.5 L662.8 355.7 L665.8 355.8 L668.8 356.0 L671.8 356.1 L674.8 356.3 L677.8 356.4 L680.8 356.5 L683.8 356.6 L686.8 356.8 L689.8 356.9 L692.8 357.0 L695.7 357.1 L698.7 357.2 L701.7 357.3 L704.7 357.3 L707.7 357.4 L710.7 357.5 L713.7 357.5 L716.7 357.6 L719.7 357.6" stroke="#ff0000"/>
<path d="M73.0 306.8 L76.0 306.7 L79.0 306.7 L82.0 306.8 L85.0 306.9 L88.0 307.1 L91.0 307.3 L94.0 307.5 L97.1 307.8 L100.1 308.1 L103.1 308.5 L106.1 308.9 L109.1 309.3 L112.1 309.8 L115.1 310.4 L118.1 310.9 L121.1 311.5 L124.1 312.1 L127.1 312.8 L130.1 313.4 L133.1 314.2 L136.1 314.9 L139.1 315.6 L142.2 316.4 L145.2 317.2 L148.2 318.1 L151.2 318.9 L154.2 319.8 L157.2 320.6 L160.2 321.5 L163.2 322.4 L166.2 323.4 L169.2 324.3 L172.2 325.2 L175.2 326.2 L178.2 327.2 L181.2 328.1 L184.2 329.1 L187.2 330.1 L190.3 331.1 L193.3 332.0 L196.3 333.0 L199.3 334.0 L202.3 335.0 L205.3 335.9 L208.3 336.9 L211.3 337.9 L214.3 338.8 L217.3 339.8 L220.3 340.7 L223.3 341.6 L226.3 342.5 L229.3 343.4 L232.3 344.3 L235.4 345.2 L238.4 346.0 L241.4 346.8 L244.4 347.7 L247.4 348.5 L250.4 349.3 L253.4 350.0 L256.4 350.8 L259.4 351.5 L262.4 352.3 L265.4 353.0 L268.4 353.6 L271.4 354.3 L274.4 355.0 L277.4 355.6 L280.5 356.2 L283.5 356.8 L286.5 357.4 L289.5 357.9 L292.5 358.4 L295.5 358.9 L298.5 359.4 L301.5 359.9 L304.5 360.3 L307.5 360.7 L310.5 361.1 L313.5 361.5 L316.5 361.8 L319.5 362.1 L322.5 362.5 L325.6 362.7 L328.6 363.0 L331.6 363.3 L334.6 363.5 L337.6 363.7 L340.6 364.0 L343.6 364.2 L346.6 364.3 L349.6 364.5 L352.6 364.7 L355.6 364.8 L358.6 364.9 L361.6 365.0 L364.6 365.2 L367.6 365.2 L370.6 365.3 L373.7 365.4 L376.7 365.5 L379.7 365.6 L382.7 365.6 L385.7 365.7 L388.7 365.7 L391.7 365.7 L394.7 365.8 L397.7 365.8 L400.7 365.9 L403.7 365.9 L406.7 365.9 L409.7 365.9 L412.7 366.0 L415.7 366.0 L418.8 366.0 L421.8 366.0 L424.8 366.1 L427.8 366.1 L430.8 366.2 L433.8 366.2 L436.8 366.3 L439.8 366.3 L442.8 366.4 L445.8 366.4 L448.8 366.5 L451.8 366.6 L454.8 366.7 L457.8 366.8 L460.8 366.9 L463.9 367.0 L466.9 367.1 L469.9 367.2 L472.9 367.4 L475.9 367.5 L478.9 367.6 L481.9 367.8 L484.9 367.9 L487.9 368.1 L490.9 368.2 L493.9 368.4 L496.9 368.5 L499.9 368.7 L502.9 368.9 L505.9 369.1 L509.0 369.3 L512.0 369.5 L515.0 369.6 L518.0 369.8 L521.0 370.0 L524.0 370.3 L527.0 370.5 L530.0 370.7 L533.0 370.9 L536.0 371.1 L539.0 371.3 L542.0 371.6 L545.0 371.8 L548.0 372.0 L551.0 372.3 L554.1 372.5 L557.1 372.8 L560.1 373.0 L563.1 373.3 L566.1 373.5 L569.1 373.8 L572.1 374.0 L575.1 374.3 L578.1 374.5 L581.1 374.8 L584.1 375.0 L587.1 375.3 L590.1 375.5 L593.1 375.8 L596.1 376.1 L599.1 376.3 L602.2 376.6 L605.2 376.9 L608.2 377.1 L611.2 377.4 L614.2 377.6 L617.2 377.9 L620.2 378.2 L623.2 378.4 L626.2 378.7 L629.2 378.9 L632.2 379.2 L635.2 379.4 L638.2 379.7 L641.2 379.9 L644.2 380.2 L647.3 380.4 L650.3 380.7 L653.3 380.9 L656.3 381.2 L659.3 381.4 L662.3 381.7 L665.3 381.9 L668.3 382.1" stroke="#008b00"/>
<path d="M73.0 307.1 L76.0 306.9 L79.0 306.8 L82.0 306.7 L85.0 306.8 L88.0 306.9 L91.0 307.2 L94.1 307.5 L97.1 307.9 L100.1 308.3 L103.1 308.8 L106.1 309.4 L109.1 310.1 L112.1 310.8 L115.1 311.5 L118.1 312.4 L121.1 313.2 L124.1 314.2 L127.1 315.2 L130.1 316.2 L133.2 317.2 L136.2 318.3 L139.2 319.5 L142.2 320.7 L145.2 321.9 L148.2 323.1 L151.2 324.4 L154.2 325.7 L157.2 327.0 L160.2 328.3 L163.2 329.6 L166.2 331.0 L169.2 332.3 L172.3 333.7 L175.3 335.1 L178.3 336.5 L181.3 337.8 L184.3 339.2 L187.3 340.6 L190.3 341.9 L193.3 343.3 L196.3 344.6 L199.3 345.9 L202.3 347.2 L205.3 348.5 L208.3 349.7 L211.4 351.0 L214.4 352.2 L217.4 353.4 L220.4 354.5 L223.4 355.7 L226.4 356.8 L229.4 357.9 L232.4 359.0 L235.4 360.1 L238.4 361.2 L241.4 362.3 L244.4 363.4 L247.4 364.6 L250.5 365.7 L253.5 366.9 L256.5 368.0 L259.5 369.1 L262.5 370.2 L265.5 371.3 L268.5 372.3 L271.5 373.3 L274.5 374.3 L277.5 375.1 L280.5 376.0 L283.5 376.8 L286.5 377.5 L289.6 378.2 L292.6 378.9 L295.6 379.5 L298.6 380.1 L301.6 380.6 L304.6 381.1 L307.6 381.6 L310.6 382.1 L313.6 382.5 L316.6 382.9 L319.6 383.3 L322.6 383.7 L325.6 384.0 L328.7 384.3 L331.7 384.6 L334.7 384.9 L337.7 385.2 L340.7 385.5 L343.7 385.7 L346.7 385.9 L349.7 386.2 L352.7 386.4 L355.7 386.6 L358.7 386.7 L361.7 386.9 L364.8 387.1 L367.8 387.2 L370.8 387.4 L373.8 387.5 L376.8 387.6 L379.8 387.8 L382.8 387.9 L385.8 388.0 L388.8 388.1 L391.8 388.2 L394.8 388.3 L397.8 388.3 L400.8 388.4 L403.9 388.5 L406.9 388.6 L409.9 388.7 L412.9 388.7 L415.9 388.8 L418.9 388.9 L421.9 389.0 L424.9 389.1 L427.9 389.1 L430.9 389.2 L433.9 389.3 L436.9 389.4 L439.9 389.5 L443.0 389.6 L446.0 389.7 L449.0 389.8 L452.0 389.9 L455.0 390.1 L458.0 390.2 L461.0 390.3 L464.0 390.5 L467.0 390.7 L470.0 390.8 L473.0 391.0 L476.0 391.2 L479.0 391.4 L482.1 391.6 L485.1 391.8 L488.1 392.1 L491.1 392.3 L494.1 392.6 L497.1 392.8 L500.1 393.1 L503.1 393.4 L506.1 393.6 L509.1 393.9 L512.1 394.2 L515.1 394.5 L518.1 394.8 L521.2 395.2 L524.2 395.5 L527.2 395.8 L530.2 396.1 L533.2 396.5 L536.2 396.8 L539.2 397.2 L542.2 397.5 L545.2 397.9 L548.2 398.2 L551.2 398.6 L554.2 399.0 L557.2 399.3 L560.3 399.7 L563.3 400.1 L566.3 400.5 L569.3 400.9 L572.3 401.2 L575.3 401.6 L578.3 402.0" stroke="#0000ff"/>
<path d="M73.0 307.1 L76.0 306.8 L79.0 306.7 L82.0 306.7 L85.0 306.8 L88.0 307.0 L91.1 307.3 L94.1 307.7 L97.1 308.2 L100.1 308.8 L103.1 309.5 L106.1 310.2 L109.1 311.1 L112.1 312.0 L115.1 313.0 L118.1 314.1 L121.1 315.3 L124.2 316.6 L127.2 317.9 L130.2 319.3 L133.2 320.7 L136.2 322.2 L139.2 323.7 L142.2 325.3 L145.2 326.9 L148.2 328.5 L151.2 330.1 L154.2 331.8 L157.3 333.5 L160.3 335.2 L163.3 336.9 L166.3 338.6 L169.3 340.4 L172.3 342.1 L175.3 343.9 L178.3 345.6 L181.3 347.4 L184.3 349.2 L187.3 350.9 L190.4 352.7 L193.4 354.4 L196.4 356.2 L199.4 357.9 L202.4 359.6 L205.4 361.3 L208.4 363.0 L211.4 364.7 L214.4 366.4 L217.4 368.0 L220.4 369.7 L223.5 371.3 L226.5 372.9 L229.5 374.4 L232.5 376.0 L235.5 377.5 L238.5 379.0 L241.5 380.5 L244.5 382.0 L247.5 383.4 L250.5 384.8 L253.5 386.2 L256.6 387.5 L259.6 388.8 L262.6 390.1 L265.6 391.3 L268.6 392.6 L271.6 393.7 L274.6 394.9 L277.6 396.0 L280.6 397.0 L283.6 398.0 L286.6 399.0 L289.7 399.9 L292.7 400.8 L295.7 401.7 L298.7 402.5 L301.7 403.2 L304.7 403.9 L307.7 404.6 L310.7 405.2 L313.7 405.8 L316.7 406.3 L319.7 406.8 L322.7 407.3 L325.8 407.7 L328.8 408.1 L331.8 408.5 L334.8 408.9 L337.8 409.2 L340.8 409.5 L343.8 409.7 L346.8 410.0 L349.8 410.2 L352.8 410.4 L355.8 410.6 L358.9 410.8 L361.9 411.0 L364.9 411.1 L367.9 411.3 L370.9 411.4 L373.9 411.5 L376.9 411.6 L379.9 411.8 L382.9 411.9 L385.9 412.0 L388.9 412.1 L392.0 412.2 L395.0 412.3 L398.0 412.5 L401.0 412.6 L404.0 412.7 L407.0 412.8 L410.0 413.0 L413.0 413.1 L416.0 413.2 L419.0 413.4 L422.0 413.5 L425.1 413.7 L428.1 413.8 L431.1 414.0 L434.1 414.2 L437.1 414.4 L440.1 414.5 L443.1 414.7 L446.1 414.9 L449.1 415.2 L452.1 415.4 L455.1 415.6 L458.2 415.9 L461.2 416.1 L464.2 416.4 L467.2 416.7 L470.2 416.9 L473.2 417.2 L476.2 417.5 L479.2 417.8 L482.2 418.2 L485.2 418.5 L488.2 418.8 L491.3 419.2 L494.3 419.5 L497.3 419.9 L500.3 420.3 L503.3 420.7 L506.3 421.1 L509.3 421.5 L512.3 421.9 L515.3 422.4 L518.3 422.8 L521.3 423.3 L524.4 423.7 L527.4 424.2 L530.4 424.7 L533.4 425.2 L536.4 425.7 L539.4 426.2" stroke="#9400d3"/>
<path d="M73.0 307.1 L76.0 306.9 L79.0 306.8 L82.0 306.8 L85.0 307.0 L88.0 307.3 L91.0 307.7 L94.0 308.2 L96.9 308.9 L99.9 309.6 L102.9 310.5 L105.9 311.4 L108.9 312.5 L111.9 313.7 L114.9 315.0 L117.9 316.4 L120.9 317.9 L123.9 319.4 L126.9 321.1 L129.9 322.8 L132.9 324.7 L135.9 326.6 L138.9 328.5 L141.8 330.6 L144.8 332.6 L147.8 334.8 L150.8 336.9 L153.8 339.1 L156.8 341.3 L159.8 343.6 L162.8 345.8 L165.8 348.1 L168.8 350.3 L171.8 352.5 L174.8 354.8 L177.8 357.0 L180.8 359.2 L183.8 361.3 L186.7 363.5 L189.7 365.7 L192.7 367.8 L195.7 369.9 L198.7 372.0 L201.7 374.1 L204.7 376.2 L207.7 378.2 L210.7 380.2 L213.7 382.2 L216.7 384.2 L219.7 386.2 L222.7 388.2 L225.7 390.1 L228.7 392.0 L231.6 393.9 L234.6 395.7 L237.6 397.6 L240.6 399.3 L243.6 401.1 L246.6 402.8 L249.6 404.5 L252.6 406.1 L255.6 407.7 L258.6 409.3 L261.6 410.8 L264.6 412.2 L267.6 413.6 L270.6 415.0 L273.6 416.2 L276.5 417.5 L279.5 418.6 L282.5 419.8 L285.5 420.8 L288.5 421.8 L291.5 422.8 L294.5 423.7 L297.5 424.6 L300.5 425.4 L303.5 426.2 L306.5 427.0 L309.5 427.7 L312.5 428.4 L315.5 429.0 L318.4 429.6 L321.4 430.1 L324.4 430.7 L327.4 431.2 L330.4 431.6 L333.4 432.1 L336.4 432.5 L339.4 432.9 L342.4 433.3 L345.4 433.6 L348.4 433.9 L351.4 434.2 L354.4 434.5 L357.4 434.8 L360.4 435.1 L363.3 435.3 L366.3 435.5 L369.3 435.8 L372.3 436.0 L375.3 436.2 L378.3 436.4 L381.3 436.6 L384.3 436.8 L387.3 437.0 L390.3 437.2 L393.3 437.4 L396.3 437.5 L399.3 437.7 L402.3 437.9 L405.3 438.1 L408.2 438.3 L411.2 438.6 L414.2 438.8 L417.2 439.0 L420.2 439.2 L423.2 439.5 L426.2 439.7 L429.2 440.0 L432.2 440.2 L435.2 440.5 L438.2 440.8 L441.2 441.1 L444.2 441.4 L447.2 441.7 L450.2 442.1 L453.1 442.4 L456.1 442.8 L459.1 443.2 L462.1 443.6 L465.1 444.1 L468.1 444.5 L471.1 445.0 L474.1 445.5" stroke="#40e0d0"/>
<path d="M73.0 307.1 L76.0 307.2 L79.0 307.4 L82.0 307.7 L85.0 308.0 L88.0 308.4 L91.0 309.0 L94.0 309.6 L96.9 310.3 L99.9 311.1 L102.9 312.1 L105.9 313.1 L108.9 314.3 L111.9 315.6 L114.9 317.0 L117.9 318.5 L120.9 320.2 L123.9 322.1 L126.9 324.1 L129.9 326.2 L132.9 328.4 L135.9 330.8 L138.9 333.2 L141.8 335.7 L144.8 338.4 L147.8 341.1 L150.8 343.8 L153.8 346.6 L156.8 349.4 L159.8 352.3 L162.8 355.2 L165.8 358.1 L168.8 361.0 L171.8 363.9 L174.8 366.7 L177.8 369.6 L180.8 372.4 L183.8 375.2 L186.7 377.9 L189.7 380.7 L192.7 383.4 L195.7 386.0 L198.7 388.6 L201.7 391.2 L204.7 393.7 L207.7 396.2 L210.7 398.6 L213.7 401.0 L216.7 403.3 L219.7 405.5 L222.7 407.6 L225.7 409.7 L228.7 411.7 L231.6 413.7 L234.6 415.6 L237.6 417.5 L240.6 419.3 L243.6 421.2 L246.6 422.9 L249.6 424.7 L252.6 426.4 L255.6 428.1 L258.6 429.8 L261.6 431.4 L264.6 433.0 L267.6 434.6 L270.6 436.1 L273.6 437.6 L276.6 439.0 L279.5 440.4 L282.5 441.8 L285.5 443.1 L288.5 444.3 L291.5 445.5 L294.5 446.7 L297.5 447.8 L300.5 448.8 L303.5 449.8 L306.5 450.7 L309.5 451.6 L312.5 452.5 L315.5 453.2 L318.5 454.0 L321.5 454.7 L324.4 455.3 L327.4 455.9 L330.4 456.5 L333.4 457.1 L336.4 457.6 L339.4 458.0 L342.4 458.5 L345.4 458.9 L348.4 459.2 L351.4 459.6 L354.4 459.9 L357.4 460.2 L360.4 460.5 L363.4 460.8 L366.4 461.0 L369.3 461.3 L372.3 461.5 L375.3 461.7 L378.3 461.9 L381.3 462.1 L384.3 462.3 L387.3 462.5 L390.3 462.7 L393.3 462.9 L396.3 463.1 L399.3 463.3 L402.3 463.5 L405.3 463.7 L408.3 464.0 L411.3 464.2 L414.2 464.5 L417.2 464.8 L420.2 465.1 L423.2 465.5 L426.2 465.8 L429.2 466.2 L432.2 466.6 L435.2 467.1" stroke="#ffa500"/>
<path d="M95.0 307.3 L98.0 307.5 L101.0 307.7 L104.0 308.0 L107.0 308.3 L110.0 308.6 L113.0 308.9 L116.0 309.3 L119.0 309.6 L122.0 310.1 L125.0 310.5 L127.9 310.9 L130.9 311.4 L133.9 311.9 L136.9 312.4 L139.9 312.9 L142.9 313.4 L145.9 313.9 L148.9 314.5 L151.9 315.1 L154.9 315.6 L157.9 316.2 L160.9 316.8 L163.9 317.4 L166.9 318.0 L169.9 318.6 L172.9 319.3 L175.9 319.9 L178.9 320.5 L181.9 321.2 L184.9 321.8 L187.9 322.4 L190.8 323.1 L193.8 323.7 L196.8 324.3 L199.8 325.0 L202.8 325.6 L205.8 326.2 L208.8 326.9 L211.8 327.5 L214.8 328.1 L217.8 328.7 L220.8 329.3 L223.8 329.9 L226.8 330.5 L229.8 331.1 L232.8 331.7 L235.8 332.3 L238.8 332.8 L241.8 333.4 L244.8 333.9 L247.8 334.4 L250.8 334.9 L253.7 335.4 L256.7 335.9 L259.7 336.4 L262.7 336.9 L265.7 337.3 L268.7 337.8 L271.7 338.2 L274.7 338.6 L277.7 339.0 L280.7 339.4 L283.7 339.8 L286.7 340.2 L289.7 340.6 L292.7 340.9 L295.7 341.2 L298.7 341.6 L301.7 341.9 L304.7 342.2 L307.7 342.5 L310.7 342.7 L313.7 343.0 L316.6 343.3 L319.6 343.5 L322.6 343.7 L325.6 343.9 L328.6 344.1 L331.6 344.3 L334.6 344.5 L337.6 344.7 L340.6 344.8 L343.6 345.0 L346.6 345.1 L349.6 345.2 L352.6 345.3 L355.6 345.4 L358.6 345.5 L361.6 345.6 L364.6 345.7 L367.6 345.8 L370.6 345.9 L373.6 345.9 L376.6 346.0 L379.5 346.0 L382.5 346.1 L385.5 346.1 L388.5 346.1 L391.5 346.2 L394.5 346.2 L397.5 346.2 L400.5 346.3 L403.5 346.3 L406.5 346.3 L409.5 346.3 L412.5 346.4 L415.5 346.4 L418.5 346.4 L421.5 346.4 L424.5 346.5 L427.5 346.5 L430.5 346.5 L433.5 346.5 L436.5 346.6 L439.4 346.6 L442.4 346.6 L445.4 346.7 L448.4 346.7 L451.4 346.8 L454.4 346.8 L457.4 346.8 L460.4 346.9 L463.4 346.9 L466.4 347.0 L469.4 347.0 L472.4 347.1 L475.4 347.2 L478.4 347.2 L481.4 347.3 L484.4 347.3 L487.4 347.4 L490.4 347.5 L493.4 347.5 L496.4 347.6 L499.4 347.7 L502.3 347.7 L505.3 347.8 L508.3 347.9 L511.3 348.0 L514.3 348.1 L517.3 348.2 L520.3 348.2 L523.3 348.3 L526.3 348.4 L529.3 348.5 L532.3 348.6 L535.3 348.7 L538.3 348.8 L541.3 348.9 L544.3 349.0 L547.3 349.2 L550.3 349.3 L553.3 349.4 L556.3 349.5 L559.3 349.6 L562.3 349.8 L565.2 349.9 L568.2 350.0 L571.2 350.1 L574.2 350.3 L577.2 350.4 L580.2 350.6 L583.2 350.7 L586.2 350.9 L589.2 351.0 L592.2 351.2 L595.2 351.3 L598.2 351.5 L601.2 351.6 L604.2 351.8 L607.2 351.9 L610.2 352.1 L613.2 352.2 L616.2 352.4 L619.2 352.5 L622.2 352.7 L625.2 352.9 L628.1 353.0 L631.1 353.1 L634.1 353.3 L637.1 353.4 L640.1 353.6 L643.1 353.7 L646.1 353.8 L649.1 354.0 L652.1 354.1 L655.1 354.2 L658.1 354.3 L661.1 354.4 L664.1 354.5 L667.1 354.6 L670.1 354.7 L673.1 354.8 L676.1 354.8 L679.1 354.9 L682.1 355.0 L685.1 355.0 L688.1 355.1 L691.0 355.1 L694.0 355.1 L697.0 355.1 L700.0 355.1 L703.0 355.1 L706.0 355.1 L709.0 355.1 L712.0 355.0 L715.0 355.0 L718.0 354.9 L721.0 354.8" stroke="#000" stroke-width="2.7" stroke-dasharray="2.7 6.95" stroke-dashoffset="-0.3"/>
<path d="M95.0 307.6 L98.0 308.0 L101.0 308.4 L104.0 309.0 L107.0 309.6 L110.0 310.3 L113.0 311.0 L116.0 311.8 L119.0 312.7 L122.0 313.6 L125.0 314.5 L127.9 315.5 L130.9 316.5 L133.9 317.6 L136.9 318.7 L139.9 319.9 L142.9 321.0 L145.9 322.3 L148.9 323.5 L151.9 324.7 L154.9 326.0 L157.9 327.3 L160.9 328.6 L163.9 329.9 L166.9 331.3 L169.9 332.6 L172.9 333.9 L175.9 335.3 L178.9 336.6 L181.9 337.9 L184.9 339.3 L187.9 340.6 L190.8 341.9 L193.8 343.2 L196.8 344.5 L199.8 345.9 L202.8 347.2 L205.8 348.4 L208.8 349.7 L211.8 351.0 L214.8 352.3 L217.8 353.5 L220.8 354.7 L223.8 355.9 L226.8 357.1 L229.8 358.3 L232.8 359.5 L235.8 360.7 L238.8 361.8 L241.8 362.9 L244.8 364.0 L247.8 365.1 L250.8 366.2 L253.7 367.2 L256.7 368.2 L259.7 369.2 L262.7 370.2 L265.7 371.2 L268.7 372.1 L271.7 373.0 L274.7 373.9 L277.7 374.7 L280.7 375.6 L283.7 376.4 L286.7 377.1 L289.7 377.9 L292.7 378.6 L295.7 379.3 L298.7 379.9 L301.7 380.5 L304.7 381.1 L307.7 381.7 L310.7 382.2 L313.7 382.7 L316.6 383.1 L319.6 383.6 L322.6 384.0 L325.6 384.3 L328.6 384.7 L331.6 385.0 L334.6 385.3 L337.6 385.6 L340.6 385.8 L343.6 386.1 L346.6 386.3 L349.6 386.5 L352.6 386.6 L355.6 386.8 L358.6 386.9 L361.6 387.1 L364.6 387.2 L367.6 387.3 L370.6 387.4 L373.6 387.5 L376.6 387.6 L379.5 387.6 L382.5 387.7 L385.5 387.8 L388.5 387.8 L391.5 387.9 L394.5 387.9 L397.5 388.0 L400.5 388.1 L403.5 388.1 L406.5 388.2 L409.5 388.3 L412.5 388.3 L415.5 388.4 L418.5 388.5 L421.5 388.6 L424.5 388.7 L427.5 388.8 L430.5 388.9 L433.5 389.1 L436.5 389.2 L439.4 389.3 L442.4 389.4 L445.4 389.6 L448.4 389.7 L451.4 389.9 L454.4 390.0 L457.4 390.2 L460.4 390.4 L463.4 390.5 L466.4 390.7 L469.4 390.9 L472.4 391.1 L475.4 391.3 L478.4 391.5 L481.4 391.7 L484.4 391.8 L487.4 392.1 L490.4 392.3 L493.4 392.5 L496.4 392.7 L499.4 392.9 L502.3 393.1 L505.3 393.3 L508.3 393.5 L511.3 393.8 L514.3 394.0 L517.3 394.2 L520.3 394.5 L523.3 394.7 L526.3 394.9 L529.3 395.2 L532.3 395.4 L535.3 395.6 L538.3 395.9 L541.3 396.1 L544.3 396.4 L547.3 396.6 L550.3 396.9 L553.3 397.1 L556.3 397.4 L559.3 397.6 L562.3 397.8 L565.2 398.1 L568.2 398.3 L571.2 398.6 L574.2 398.8 L577.2 399.1 L580.2 399.3 L583.2 399.6 L586.2 399.8 L589.2 400.1 L592.2 400.3 L595.2 400.5 L598.2 400.8 L601.2 401.0 L604.2 401.2 L607.2 401.5 L610.2 401.7 L613.2 401.9 L616.2 402.1 L619.2 402.3 L622.2 402.5 L625.2 402.7 L628.1 402.9 L631.1 403.1 L634.1 403.2 L637.1 403.4 L640.1 403.5 L643.1 403.7 L646.1 403.8 L649.1 403.9 L652.1 404.0 L655.1 404.1 L658.1 404.2 L661.1 404.3 L664.1 404.4 L667.1 404.5 L670.1 404.5 L673.1 404.6 L676.1 404.6 L679.1 404.7 L682.1 404.7 L685.1 404.8 L688.1 404.8 L691.0 404.9 L694.0 404.9 L697.0 405.0 L700.0 405.0 L703.0 405.1 L706.0 405.1 L709.0 405.2 L712.0 405.3 L715.0 405.3 L718.0 405.4 L721.0 405.5" stroke="#000" stroke-width="2.7" stroke-dasharray="2.7 6.95" stroke-dashoffset="-0.3"/>
<path d="M95.0 307.7 L98.0 308.3 L101.0 308.9 L104.0 309.6 L107.0 310.4 L110.0 311.3 L113.0 312.3 L116.0 313.4 L119.0 314.5 L122.0 315.7 L125.0 316.9 L127.9 318.3 L130.9 319.6 L133.9 321.1 L136.9 322.5 L139.9 324.1 L142.9 325.6 L145.9 327.2 L148.9 328.9 L151.9 330.5 L154.9 332.2 L157.9 333.9 L160.9 335.6 L163.9 337.4 L166.9 339.1 L169.9 340.9 L172.9 342.6 L175.9 344.4 L178.9 346.1 L181.9 347.9 L184.9 349.6 L187.9 351.3 L190.8 353.1 L193.8 354.8 L196.8 356.5 L199.8 358.2 L202.8 359.9 L205.8 361.6 L208.8 363.2 L211.8 364.9 L214.8 366.5 L217.8 368.2 L220.8 369.8 L223.8 371.4 L226.8 372.9 L229.8 374.5 L232.8 376.0 L235.8 377.5 L238.8 379.0 L241.8 380.5 L244.8 382.0 L247.8 383.4 L250.8 384.8 L253.7 386.1 L256.7 387.5 L259.7 388.8 L262.7 390.1 L265.7 391.3 L268.7 392.5 L271.7 393.7 L274.7 394.8 L277.7 395.9 L280.7 397.0 L283.7 398.0 L286.7 399.0 L289.7 399.9 L292.7 400.8 L295.7 401.7 L298.7 402.5 L301.7 403.3 L304.7 404.0 L307.7 404.6 L310.7 405.3 L313.7 405.8 L316.6 406.4 L319.6 406.9 L322.6 407.4 L325.6 407.8 L328.6 408.2 L331.6 408.6 L334.6 408.9 L337.6 409.3 L340.6 409.6 L343.6 409.8 L346.6 410.1 L349.6 410.3 L352.6 410.5 L355.6 410.7 L358.6 410.9 L361.6 411.1 L364.6 411.2 L367.6 411.4 L370.6 411.5 L373.6 411.6 L376.6 411.7 L379.5 411.8 L382.5 411.9 L385.5 412.0 L388.5 412.1 L391.5 412.2 L394.5 412.3 L397.5 412.3 L400.5 412.4 L403.5 412.5 L406.5 412.6 L409.5 412.8 L412.5 412.9 L415.5 413.0 L418.5 413.2 L421.5 413.3 L424.5 413.5 L427.5 413.6 L430.5 413.8 L433.5 414.0 L436.5 414.2 L439.4 414.4 L442.4 414.6 L445.4 414.8 L448.4 415.0 L451.4 415.3 L454.4 415.5 L457.4 415.8 L460.4 416.0 L463.4 416.3 L466.4 416.5 L469.4 416.8 L472.4 417.1 L475.4 417.3 L478.4 417.6 L481.4 417.9 L484.4 418.2 L487.4 418.5 L490.4 418.8 L493.4 419.1 L496.4 419.4 L499.4 419.7 L502.3 420.0 L505.3 420.4 L508.3 420.7 L511.3 421.0 L514.3 421.3 L517.3 421.7 L520.3 422.0 L523.3 422.3 L526.3 422.7 L529.3 423.0 L532.3 423.3 L535.3 423.7 L538.3 424.0 L541.3 424.4 L544.3 424.7 L547.3 425.0 L550.3 425.4 L553.3 425.7 L556.3 426.0 L559.3 426.4 L562.3 426.7 L565.2 427.0 L568.2 427.3 L571.2 427.6 L574.2 427.9 L577.2 428.2 L580.2 428.5 L583.2 428.8 L586.2 429.0 L589.2 429.3 L592.2 429.5 L595.2 429.8 L598.2 430.0 L601.2 430.3 L604.2 430.5 L607.2 430.7 L610.2 430.9 L613.2 431.1 L616.2 431.3 L619.2 431.5 L622.2 431.7 L625.2 431.8 L628.1 432.0 L631.1 432.2 L634.1 432.3 L637.1 432.5 L640.1 432.6 L643.1 432.7 L646.1 432.8 L649.1 433.0 L652.1 433.1 L655.1 433.2 L658.1 433.3 L661.1 433.4 L664.1 433.5 L667.1 433.6 L670.1 433.6 L673.1 433.7 L676.1 433.8 L679.1 433.8 L682.1 433.9 L685.1 433.9 L688.1 434.0 L691.0 434.0 L694.0 434.0 L697.0 434.1 L700.0 434.1 L703.0 434.1 L706.0 434.1 L709.0 434.1 L712.0 434.1 L715.0 434.1 L718.0 434.1 L721.0 434.1" stroke="#000" stroke-width="2.7" stroke-dasharray="2.7 6.95" stroke-dashoffset="-0.3"/>
</g>
<path d="M105.1 12.0V18.5M105.1 288.9V301.9M105.1 593.7V587.2M137.4 12.0V18.5M137.4 288.9V301.9M137.4 593.7V587.2M169.8 12.0V18.5M169.8 288.9V301.9M169.8 593.7V587.2M202.2 12.0V18.5M202.2 288.9V301.9M202.2 593.7V587.2M234.7 12.0V18.5M234.7 288.9V301.9M234.7 593.7V587.2M267.0 12.0V18.5M267.0 288.9V301.9M267.0 593.7V587.2M299.4 12.0V18.5M299.4 288.9V301.9M299.4 593.7V587.2M331.9 12.0V18.5M331.9 288.9V301.9M331.9 593.7V587.2M364.2 12.0V18.5M364.2 288.9V301.9M364.2 593.7V587.2M396.6 12.0V25.2M396.6 282.2V308.6M396.6 593.7V580.5M429.0 12.0V18.5M429.0 288.9V301.9M429.0 593.7V587.2M461.4 12.0V18.5M461.4 288.9V301.9M461.4 593.7V587.2M493.9 12.0V18.5M493.9 288.9V301.9M493.9 593.7V587.2M526.2 12.0V18.5M526.2 288.9V301.9M526.2 593.7V587.2M558.6 12.0V18.5M558.6 288.9V301.9M558.6 593.7V587.2M591.0 12.0V18.5M591.0 288.9V301.9M591.0 593.7V587.2M623.4 12.0V18.5M623.4 288.9V301.9M623.4 593.7V587.2M655.8 12.0V18.5M655.8 288.9V301.9M655.8 593.7V587.2M688.2 12.0V18.5M688.2 288.9V301.9M688.2 593.7V587.2M73.1 23.2H79.6M720.7 23.2H714.2M73.1 34.6H79.6M720.7 34.6H714.2M73.1 45.9H79.6M720.7 45.9H714.2M73.1 57.3H79.6M720.7 57.3H714.2M73.1 68.6H86.3M720.7 68.6H707.5M73.1 80.0H79.6M720.7 80.0H714.2M73.1 91.3H79.6M720.7 91.3H714.2M73.1 102.7H79.6M720.7 102.7H714.2M73.1 114.0H79.6M720.7 114.0H714.2M73.1 125.3H86.3M720.7 125.3H707.5M73.1 136.7H79.6M720.7 136.7H714.2M73.1 148.0H79.6M720.7 148.0H714.2M73.1 159.4H79.6M720.7 159.4H714.2M73.1 170.7H79.6M720.7 170.7H714.2M73.1 182.1H86.3M720.7 182.1H707.5M73.1 193.4H79.6M720.7 193.4H714.2M73.1 204.7H79.6M720.7 204.7H714.2M73.1 216.1H79.6M720.7 216.1H714.2M73.1 227.4H79.6M720.7 227.4H714.2M73.1 238.8H86.3M720.7 238.8H707.5M73.1 250.1H79.6M720.7 250.1H714.2M73.1 261.5H79.6M720.7 261.5H714.2M73.1 272.8H79.6M720.7 272.8H714.2M73.1 284.2H79.6M720.7 284.2H714.2M73.1 582.3H79.6M720.7 582.3H714.2M73.1 570.8H79.6M720.7 570.8H714.2M73.1 559.4H79.6M720.7 559.4H714.2M73.1 547.9H79.6M720.7 547.9H714.2M73.1 536.5H86.3M720.7 536.5H707.5M73.1 525.0H79.6M720.7 525.0H714.2M73.1 513.6H79.6M720.7 513.6H714.2M73.1 502.1H79.6M720.7 502.1H714.2M73.1 490.7H79.6M720.7 490.7H714.2M73.1 479.2H86.3M720.7 479.2H707.5M73.1 467.8H79.6M720.7 467.8H714.2M73.1 456.3H79.6M720.7 456.3H714.2M73.1 444.9H79.6M720.7 444.9H714.2M73.1 433.4H79.6M720.7 433.4H714.2M73.1 422.0H86.3M720.7 422.0H707.5M73.1 410.5H79.6M720.7 410.5H714.2M73.1 399.1H79.6M720.7 399.1H714.2M73.1 387.6H79.6M720.7 387.6H714.2M73.1 376.2H79.6M720.7 376.2H714.2M73.1 364.7H86.3M720.7 364.7H707.5M73.1 353.3H79.6M720.7 353.3H714.2M73.1 341.8H79.6M720.7 341.8H714.2M73.1 330.4H79.6M720.7 330.4H714.2M73.1 318.9H79.6M720.7 318.9H714.2M73.1 307.5H86.3M720.7 307.5H707.5" stroke="#000" stroke-width="2.0" fill="none"/>
<rect x="73.1" y="12.0" width="647.6" height="581.7" fill="none" stroke="#000" stroke-width="2.0"/>
<path d="M73.1 295.4H720.7" stroke="#000" stroke-width="2.0"/>
<g font-family="'Liberation Serif', 'Times New Roman', serif" font-size="24" fill="#000">
<text transform="translate(66.8 19.7) scale(0.985 1.02)" text-anchor="end">1</text>
<text transform="translate(66.8 76.4) scale(0.985 1.02)" text-anchor="end">0.8</text>
<text transform="translate(66.8 133.1) scale(0.985 1.02)" text-anchor="end">0.6</text>
<text transform="translate(66.8 189.9) scale(0.985 1.02)" text-anchor="end">0.4</text>
<text transform="translate(66.8 246.6) scale(0.985 1.02)" text-anchor="end">0.2</text>
<text transform="translate(66.8 315.3) scale(0.985 1.02)" text-anchor="end">1</text>
<text transform="translate(66.8 372.5) scale(0.985 1.02)" text-anchor="end">0.8</text>
<text transform="translate(66.8 429.8) scale(0.985 1.02)" text-anchor="end">0.6</text>
<text transform="translate(66.8 487.0) scale(0.985 1.02)" text-anchor="end">0.4</text>
<text transform="translate(66.8 544.3) scale(0.985 1.02)" text-anchor="end">0.2</text>
<text transform="translate(66.8 601.5) scale(0.985 1.02)" text-anchor="end">0</text>
<text transform="translate(72.9 617.0) scale(0.985 1.02)" text-anchor="middle">0</text>
<text transform="translate(396.9 617.0) scale(0.985 1.02)" text-anchor="middle">5</text>
<text transform="translate(721.2 617.0) scale(0.985 1.02)" text-anchor="middle">10</text>
</g>
<text font-family="'Liberation Serif', 'Times New Roman', serif" font-size="27" x="397.5" y="642.5" text-anchor="middle">t[1/W]</text>
<text font-family="'Liberation Serif', 'Times New Roman', serif" text-rendering="geometricPrecision" font-size="28.3" transform="translate(25.7 153.3) rotate(-90)" x="-29.53" y="0"><tspan font-size="29.7">Δ</tspan><tspan dx="-0.90">n(t)</tspan></text>
<text font-family="'Liberation Serif', 'Times New Roman', serif" text-rendering="geometricPrecision" font-size="27.3" transform="translate(25.2 444.7) rotate(-90)" x="-28.49" y="0"><tspan font-size="28.6">Δ</tspan><tspan dx="-0.84">n(t)</tspan></text>
<rect x="86" y="64.7" width="144.5" height="221.3" fill="#fff" stroke="#000" stroke-width="1.6"/>
<g font-family="'Liberation Serif', 'Times New Roman', serif" font-size="27" fill="#000">
<path d="M93 77.1H119" stroke="#40e0d0" stroke-width="1.6"/>
<text x="132" y="83.5">3 loops</text>
<path d="M93 101.7H119" stroke="#008b00" stroke-width="1.6"/>
<text x="132" y="108.1">4 loops</text>
<path d="M93 126.4H119" stroke="#ff00ff" stroke-width="1.6"/>
<text x="132" y="132.8">5 loops</text>
<path d="M93 151.0H119" stroke="#ffa500" stroke-width="1.6"/>
<text x="132" y="157.4">6 loops</text>
<path d="M93 175.6H119" stroke="#7221bc" stroke-width="1.6"/>
<text x="132" y="182.0">7 loops</text>
<path d="M93 200.2H119" stroke="#bc8f8f" stroke-width="1.6"/>
<text x="132" y="206.7">8 loops</text>
<path d="M93 224.9H119" stroke="#0000ff" stroke-width="1.6"/>
<text x="132" y="231.3">9 loops</text>
<path d="M93 249.5H119" stroke="#ff0000" stroke-width="1.6"/>
<text x="132" y="255.9">10 loops</text>
<path d="M93 274.1H119" stroke="#000000" stroke-width="1.6"/>
<text x="132" y="280.5">11 loops</text>
</g>
<rect x="86" y="425.2" width="174" height="183.90000000000003" fill="#fff" stroke="#000" stroke-width="1.6"/>
<g font-family="'Liberation Serif', 'Times New Roman', serif" font-size="27" fill="#000">
<path d="M93 441.0H119" stroke="#000000" stroke-width="1.6"/>
<text x="132" y="450.0">U= 0.15 W</text>
<path d="M93 466.3H119" stroke="#ff0000" stroke-width="1.6"/>
<text x="132" y="475.3">U= 0.20 W</text>
<path d="M93 491.7H119" stroke="#008b00" stroke-width="1.6"/>
<text x="132" y="500.7">U= 0.25 W</text>
<path d="M93 517.0H119" stroke="#0000ff" stroke-width="1.6"/>
<text x="132" y="526.0">U= 0.30 W</text>
<path d="M93 542.3H119" stroke="#9400d3" stroke-width="1.6"/>
<text x="132" y="551.3">U= 0.35 W</text>
<path d="M93 567.6H119" stroke="#40e0d0" stroke-width="1.6"/>
<text x="132" y="576.6">U= 0.40 W</text>
<path d="M93 593.0H119" stroke="#ffa500" stroke-width="1.6"/>
<text x="132" y="602.0">U= 0.45 W</text>
</g>
</svg>
</body></html>
